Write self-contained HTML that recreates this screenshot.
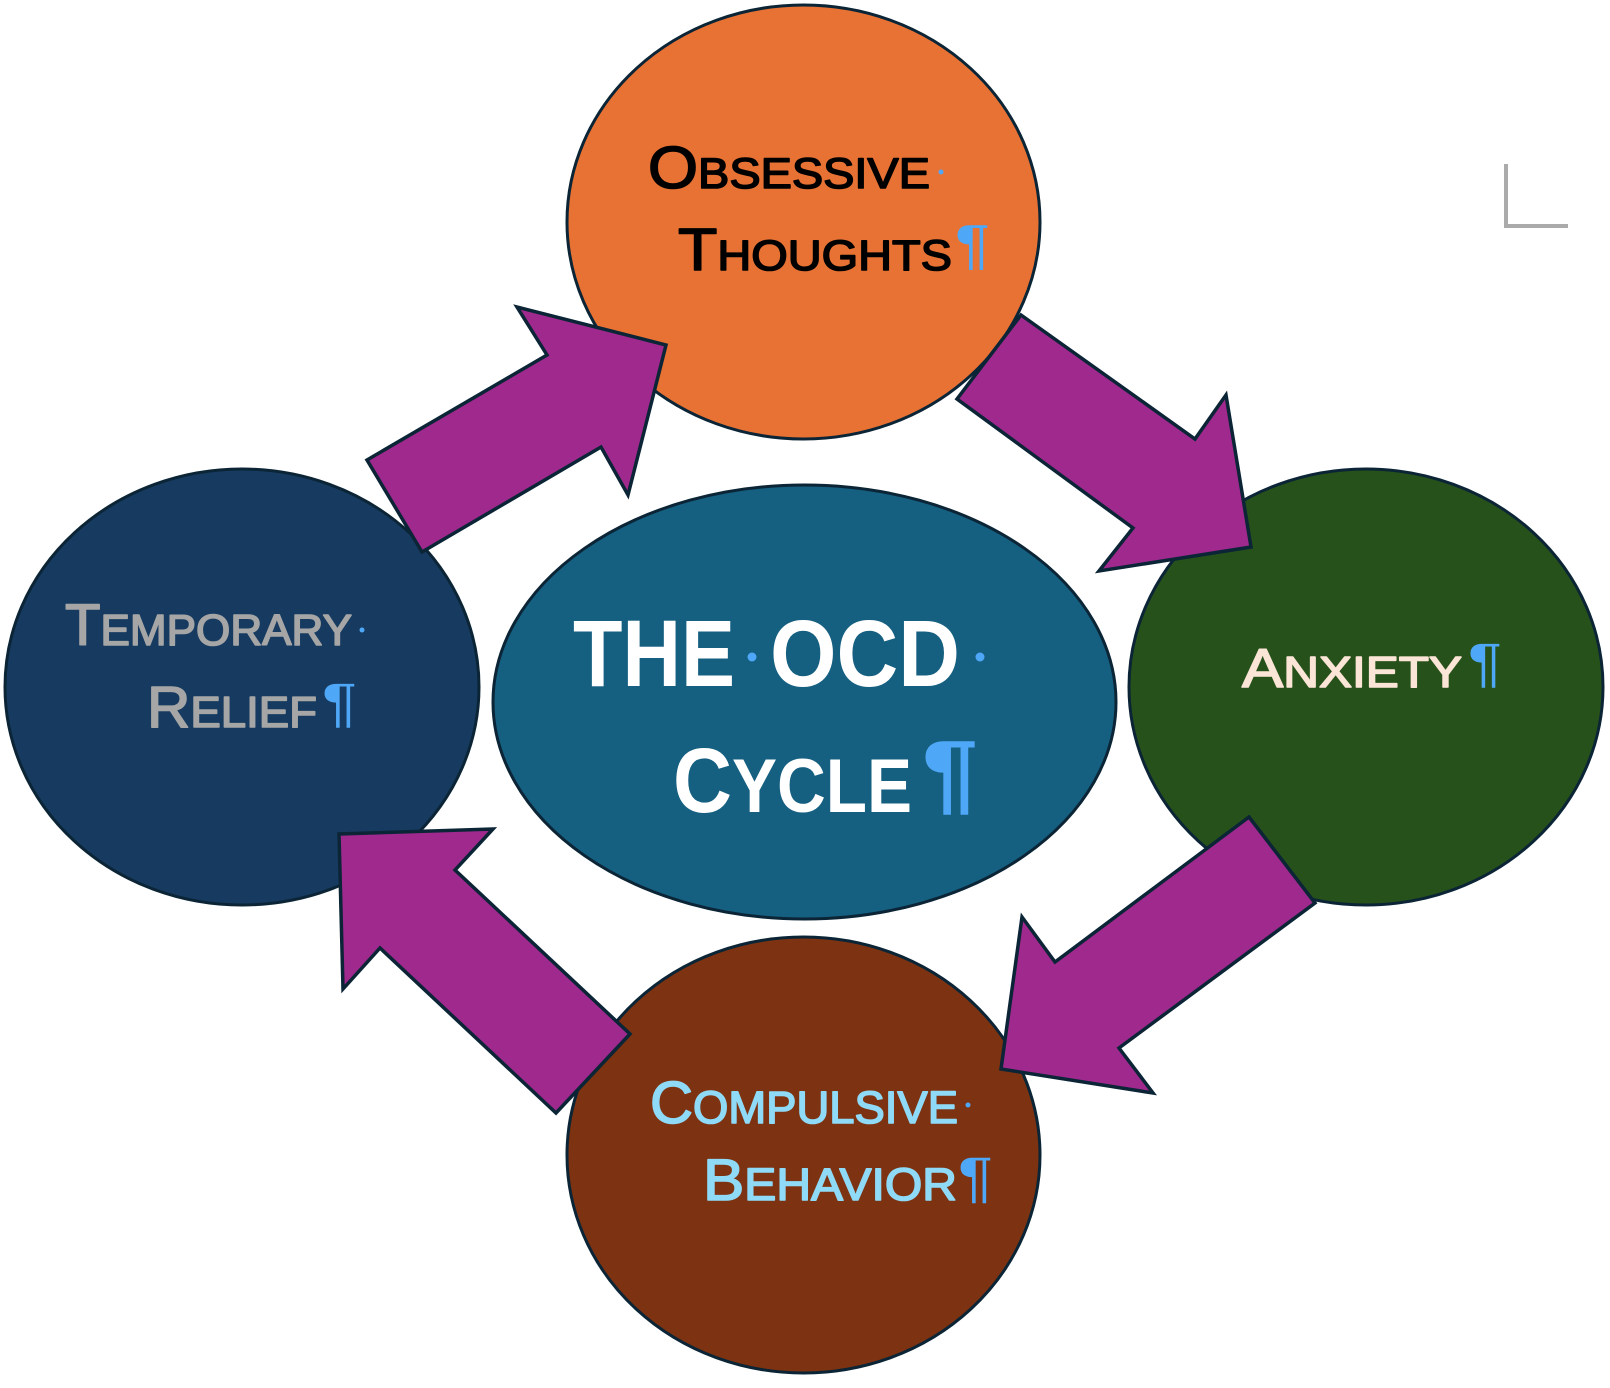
<!DOCTYPE html>
<html>
<head>
<meta charset="utf-8">
<style>
  html, body { margin: 0; padding: 0; background: #ffffff; }
  svg { display: block; }
  text { font-family: "Liberation Sans", "DejaVu Sans", sans-serif; }
  .thick { stroke-width: 1.6; stroke-linejoin: round; stroke-linecap: round; }
</style>
</head>
<body>
<svg width="1610" height="1388" viewBox="0 0 1610 1388" xmlns="http://www.w3.org/2000/svg">
  <!-- corner mark -->
  <path d="M1506 164 L1506 226 L1568 226" fill="none" stroke="#ABABAB" stroke-width="4"/>

  <!-- ellipses -->
  <ellipse cx="803.5" cy="222" rx="236.5" ry="217" fill="#E87234" stroke="#0B2536" stroke-width="3"/>
  <ellipse cx="242" cy="687" rx="237" ry="218" fill="#173B60" stroke="#0B2536" stroke-width="3"/>
  <ellipse cx="1366" cy="687" rx="237" ry="218" fill="#27511A" stroke="#0B2536" stroke-width="3"/>
  <ellipse cx="803.5" cy="1155" rx="236.5" ry="218" fill="#7D3311" stroke="#0B2536" stroke-width="3"/>
  <ellipse cx="804.5" cy="702" rx="311.5" ry="217" fill="#155F80" stroke="#0B2536" stroke-width="3"/>

  <!-- arrows -->
  <g fill="#A0298E" stroke="#0B2536" stroke-width="3.5" stroke-linejoin="miter">
    <polygon points="367,460 547,355 517,307 666,345 628,495 601,447 422,552"/>
    <polygon points="1021,315 1195,439 1226,395 1251,547 1099,571 1133,528 957,399"/>
    <polygon points="1249,817 1315,903 1119,1048 1153,1093 1001,1069 1022,917 1055,962"/>
    <polygon points="630,1034 556,1113 380,948 343,989 339,834 493,829 455,870"/>
  </g>

  <!-- Obsessive Thoughts -->
  <text class="thick" x="648" y="188" font-size="59" fill="#000" stroke="#000" textLength="282" lengthAdjust="spacingAndGlyphs">O<tspan font-size="43">BSESSIVE</tspan></text>
  <circle cx="941" cy="172" r="2.5" fill="#4FA8F7"/>
  <text class="thick" x="678" y="270" font-size="59" fill="#000" stroke="#000" textLength="274" lengthAdjust="spacingAndGlyphs">T<tspan font-size="43">HOUGHTS</tspan></text>
  <text x="955" y="263" font-size="55" fill="#4FA8F7" textLength="35" lengthAdjust="spacingAndGlyphs">¶</text>

  <!-- Temporary Relief -->
  <text class="thick" x="65" y="645" font-size="58" fill="#A6A6A6" stroke="#A6A6A6" textLength="287" lengthAdjust="spacingAndGlyphs">T<tspan font-size="44">EMPORARY</tspan></text>
  <circle cx="362" cy="630" r="2.5" fill="#4FA8F7"/>
  <text class="thick" x="147" y="727" font-size="58" fill="#A6A6A6" stroke="#A6A6A6" textLength="170" lengthAdjust="spacingAndGlyphs">R<tspan font-size="44">ELIEF</tspan></text>
  <text x="322" y="721" font-size="54" fill="#4FA8F7" textLength="35" lengthAdjust="spacingAndGlyphs">¶</text>

  <!-- Anxiety -->
  <text class="thick" x="1242" y="687" font-size="55" fill="#FBE5D6" stroke="#FBE5D6" textLength="220" lengthAdjust="spacingAndGlyphs">A<tspan font-size="44">NXIETY</tspan></text>
  <text x="1468" y="681" font-size="54" fill="#4FA8F7" textLength="34" lengthAdjust="spacingAndGlyphs">¶</text>

  <!-- The OCD Cycle -->
  <text x="573" y="686" font-size="95" font-weight="bold" fill="#FFFFFF" textLength="162" lengthAdjust="spacingAndGlyphs">THE</text>
  <circle cx="752" cy="657" r="4.5" fill="#4FA8F7"/>
  <text x="770" y="686" font-size="95" font-weight="bold" fill="#FFFFFF" textLength="190" lengthAdjust="spacingAndGlyphs">OCD</text>
  <circle cx="980" cy="657" r="4.5" fill="#4FA8F7"/>
  <text x="673" y="812" font-size="92" font-weight="bold" fill="#FFFFFF" textLength="239" lengthAdjust="spacingAndGlyphs">C<tspan font-size="76">YCLE</tspan></text>
  <text x="922" y="803" font-size="90" font-weight="bold" fill="#4FA8F7" textLength="56" lengthAdjust="spacingAndGlyphs">¶</text>

  <!-- Compulsive Behavior -->
  <text class="thick" x="650" y="1123" font-size="59" fill="#8FDAF7" stroke="#8FDAF7" textLength="308" lengthAdjust="spacingAndGlyphs">C<tspan font-size="45">OMPULSIVE</tspan></text>
  <circle cx="968" cy="1105" r="2.5" fill="#4FA8F7"/>
  <text class="thick" x="703" y="1200" font-size="58" fill="#8FDAF7" stroke="#8FDAF7" textLength="254" lengthAdjust="spacingAndGlyphs">B<tspan font-size="45">EHAVIOR</tspan></text>
  <text x="958" y="1196" font-size="56" fill="#4FA8F7" textLength="35" lengthAdjust="spacingAndGlyphs">¶</text>
</svg>
</body>
</html>
